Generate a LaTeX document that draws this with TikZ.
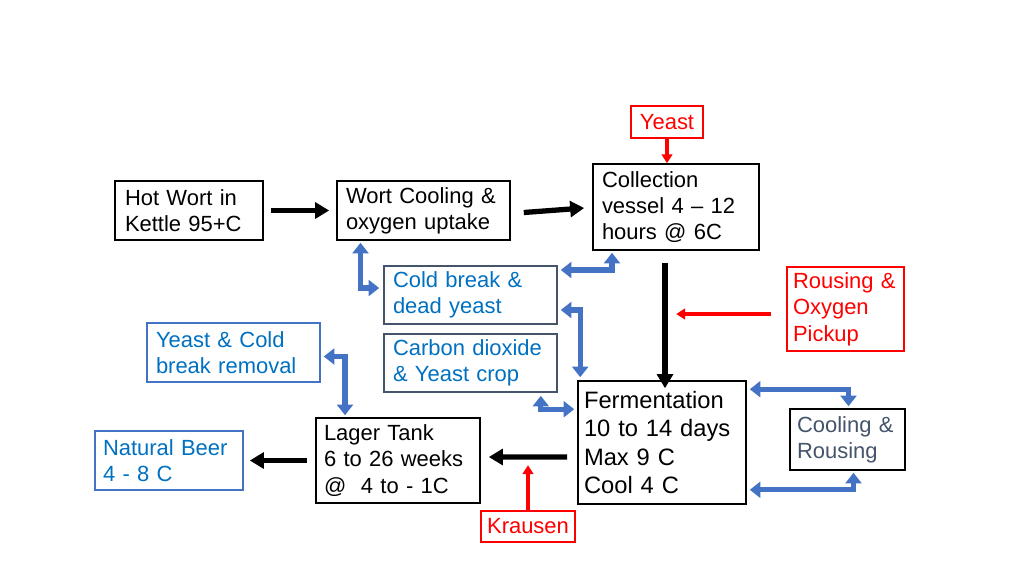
\documentclass[tikz,border=0pt]{standalone}
\usepackage{fontspec}
\setmainfont{Liberation Sans}
\usetikzlibrary{arrows.meta}
\definecolor{flowblue}{RGB}{68,114,196}
\definecolor{textblue}{RGB}{0,112,192}
\definecolor{slate}{RGB}{68,84,106}
\begin{document}
\begin{tikzpicture}[
		x=0.02cm, y=-0.02cm,
		box/.style = {draw, line width=0.9pt, inner sep=0pt, align=left, font=\fontsize{12.5}{15}\selectfont},
		bluebox/.style = {box, draw=slate, text=textblue},
		redbox/.style = {box, draw=red, text=red},
		main/.style = {line width=3pt, -{Triangle[length=8pt,width=9pt]}},
		feed/.style = {main, red, line width=1.8pt, -{Triangle[length=5pt,width=6pt]}},
		link/.style = {line width=3pt, flowblue, {Triangle[length=6pt,width=9pt]}-{Triangle[length=6pt,width=9pt]}}
	]
	\useasboundingbox (0,0) rectangle (1024,576);
	\node[box, minimum width=148*0.02cm, minimum height=59*0.02cm, text width=128*0.02cm] (hot) at (189,210.5) {Hot Wort in\\Kettle 95+C};
	\node[box, minimum width=173*0.02cm, minimum height=59*0.02cm, text width=155*0.02cm] (cool) at (423.5,210.5) {Wort Cooling \&\\oxygen uptake};
	\node[box, minimum width=166*0.02cm, minimum height=86*0.02cm, text width=148*0.02cm] (coll) at (676,207) {Collection\\vessel 4 -- 12\\hours @ 6C};
	\node[redbox, minimum width=72*0.02cm, minimum height=32*0.02cm, align=center] (yeast) at (667,122) {Yeast};
	\node[redbox, minimum width=117*0.02cm, minimum height=84*0.02cm, text width=105*0.02cm] (rouse) at (845.5,309) {Rousing \&\\Oxygen\\Pickup};
	\node[bluebox, minimum width=173*0.02cm, minimum height=58*0.02cm, text width=155*0.02cm] (cold) at (470.5,295) {Cold break \&\\dead yeast};
	\node[bluebox, minimum width=173*0.02cm, minimum height=58*0.02cm, text width=155*0.02cm] (co2) at (470.5,363) {Carbon dioxide\\\& Yeast crop};
	\node[box, draw=flowblue, text=textblue, minimum width=173*0.02cm, minimum height=59*0.02cm, text width=155*0.02cm] (ycb) at (233.5,352.5) {Yeast \& Cold\\break removal};
	\node[box, minimum width=168*0.02cm, minimum height=123*0.02cm, text width=156*0.02cm, font=\fontsize{13.5}{16}\selectfont] (ferm) at (662,442.5) {Fermentation\\10 to 14 days\\Max 9 C\\Cool 4 C};
	\node[box, text=slate, minimum width=115*0.02cm, minimum height=61*0.02cm, text width=101*0.02cm] (cr) at (847.5,439.5) {Cooling \&\\Rousing};
	\node[box, minimum width=164*0.02cm, minimum height=85*0.02cm, text width=148*0.02cm] (lager) at (398,460.5) {Lager Tank\\6 to 26 weeks\\@\ \ 4 to - 1C};
	\node[box, draw=flowblue, text=textblue, minimum width=148*0.02cm, minimum height=59*0.02cm, text width=132*0.02cm] (beer) at (169,460.5) {Natural Beer\\4 - 8 C};
	\node[redbox, minimum width=94*0.02cm, minimum height=31*0.02cm, align=center] (kraus) at (528,526.5) {Krausen};
	% main flow
	\draw[main] ([xshift=7*0.02cm]hot.east) -- ([xshift=-7*0.02cm]cool.west);
	\draw[main] ([xshift=13*0.02cm,yshift=-2*0.02cm]cool.east) -- ([xshift=-8*0.02cm,yshift=-1*0.02cm]coll.west);
	\draw[main] ([xshift=-11*0.02cm,yshift=-12*0.02cm]coll.south) -- ([xshift=3*0.02cm,yshift=-8*0.02cm]ferm.north);
	\draw[main] ([xshift=-10*0.02cm,yshift=-14.5*0.02cm]ferm.west) -- ([xshift=8*0.02cm,yshift=3.5*0.02cm]lager.east);
	\draw[main] ([xshift=-8*0.02cm]lager.west) -- ([xshift=6*0.02cm]beer.east);
	% additions
	\draw[feed] (yeast.south) -- (coll.north -| yeast.south);
	\draw[feed] ([xshift=-15*0.02cm,yshift=-5*0.02cm]rouse.west) -- ([xshift=-110*0.02cm,yshift=-5*0.02cm]rouse.west);
	\draw[feed] (kraus.north) -- ([yshift=45*0.02cm]kraus.north);
	% side streams
	\draw[link] ([xshift=-63*0.02cm,yshift=-2*0.02cm]cool.south) |- ([xshift=-4*0.02cm,yshift=7*0.02cm]cold.west);
	\draw[link] ([xshift=-64*0.02cm,yshift=-2*0.02cm]coll.south) |- ([xshift=3*0.02cm,yshift=25*0.02cm]cold.east);
	\draw[link] ([xshift=3*0.02cm,yshift=-15*0.02cm]cold.east) -| ([xshift=3*0.02cm,yshift=3*0.02cm]ferm.north west);
	\draw[link] ([xshift=-17*0.02cm,yshift=-3*0.02cm]co2.south east) |- ([xshift=-3*0.02cm,yshift=-29*0.02cm]ferm.north west);
	\draw[link] ([xshift=3*0.02cm,yshift=-4*0.02cm]ycb.east) -| ([xshift=-53*0.02cm,yshift=2*0.02cm]lager.north);
	\draw[link] ([xshift=3*0.02cm,yshift=-9*0.02cm]ferm.north east) -| ([xshift=1*0.02cm,yshift=2*0.02cm]cr.north);
	\draw[link] ([xshift=3*0.02cm,yshift=15*0.02cm]ferm.south east) -| ([xshift=6*0.02cm,yshift=-2*0.02cm]cr.south);
\end{tikzpicture}
\end{document}
